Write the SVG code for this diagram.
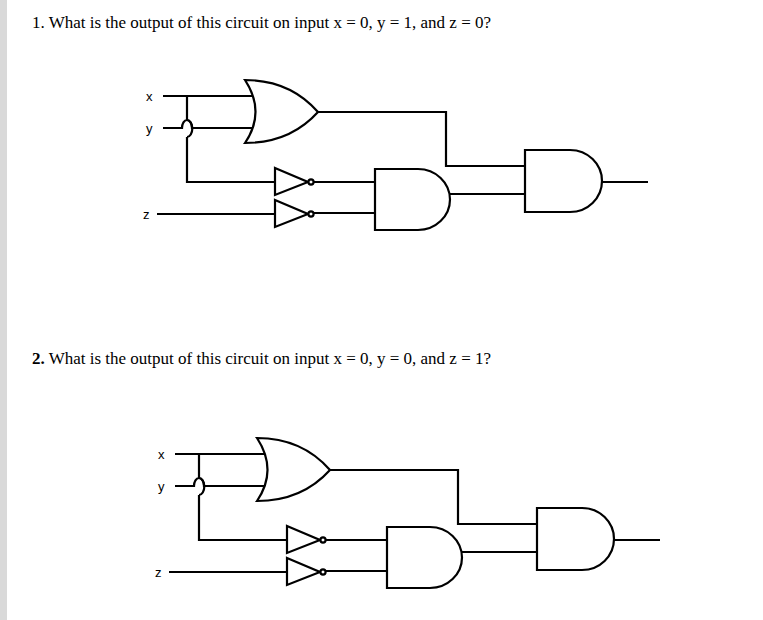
<svg xmlns="http://www.w3.org/2000/svg" width="763" height="620" viewBox="0 0 763 620">
<style>
.w{fill:none;stroke:#000;stroke-width:2.2;stroke-linejoin:miter}
.g{fill:#fff;stroke:#000;stroke-width:2.2}
.q{font-family:"Liberation Serif",serif;font-size:17px;fill:#000}
.l{font-family:"Liberation Sans",sans-serif;font-size:13px;fill:#000}
</style>
<defs>
<g id="circuit">
<g id="connectors">
<path class="w" d="M163 96H255M163 128H182A5 8 0 0 1 192 128H256M187 96V120M187 137V182H275M157 214H275M314 182H375M314 213H375M318 112H446V166H525M450 194H525M602 182H648"/>
<path class="w" d="M187 137A5 8 0 0 0 187 120"/>
</g>
<g id="or1"><path class="g" d="M245 80Q290 80 318 112Q290 143 245 143Q266 112 245 80Z"/></g>
<g id="not1"><path class="g" d="M275 168L308 182L275 195Z"/><circle class="g" cx="311" cy="182" r="2.6" stroke-width="1.8"/></g>
<g id="not2"><path class="g" d="M275 200L308 214L275 227Z"/><circle class="g" cx="311" cy="214" r="2.6" stroke-width="1.8"/></g>
<g id="and1"><path class="g" d="M375 169H418A32 30.5 0 0 1 418 230H375Z"/></g>
<g id="and2"><path class="g" d="M525 150H570A32 31 0 0 1 570 212H525Z"/></g>
<text class="l" x="146" y="101">x</text>
<text class="l" x="146" y="133">y</text>
<text class="l" x="143" y="219">z</text>
</g>
</defs>
<rect x="0" y="0" width="7" height="620" fill="#d9d9d9"/>
<text class="q" x="32" y="28">1.  What is the output of this circuit on input x = 0, y = 1, and z = 0?</text>
<text class="q" x="32" y="364"><tspan font-weight="bold">2.</tspan>  What is the output of this circuit on input x = 0, y = 0, and z = 1?</text>
<g id="c1"><use href="#circuit"/></g>
<g id="c2"><use href="#circuit" transform="translate(12,358)"/></g>
</svg>
